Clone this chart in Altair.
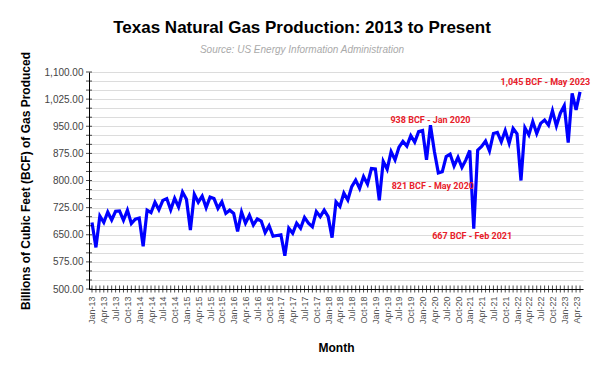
import altair as alt
import pandas as pd

# ---- data -------------------------------------------------------------
month_abbr = ["Jan", "Feb", "Mar", "Apr", "May", "Jun",
              "Jul", "Aug", "Sep", "Oct", "Nov", "Dec"]
years = list(range(2013, 2024))
month_labels = [f"{m}-{str(y)[2:]}" for y in years for m in month_abbr][:125]

production = [
    684, 615, 702, 684, 713, 691, 715, 716, 690, 718, 681, 693,   # 2013
    696, 618, 718, 711, 740, 719, 745, 750, 719, 751, 727, 768,   # 2014
    748, 663, 762, 740, 757, 725, 754, 750, 723, 741, 709, 718,   # 2015
    709, 659, 713, 682, 704, 677, 694, 688, 656, 675, 646, 648,   # 2016
    650, 592, 668, 654, 682, 668, 698, 682, 672, 714, 700, 718,   # 2017
    700, 642, 741, 728, 765, 746, 783, 801, 778, 811, 790, 833,   # 2018
    832, 745, 853, 831, 880, 857, 892, 908, 895, 924, 906, 935,   # 2019
    938, 857, 953, 880, 821, 824, 866, 873, 840, 864, 836, 857,   # 2020
    883, 667, 884, 894, 909, 882, 930, 933, 907, 938, 903, 944,   # 2021
    929, 800, 946, 926, 963, 930, 958, 967, 953, 993, 951, 986,   # 2022
    1007, 905, 1041, 995, 1045,                                   # 2023
]

y_ticks = list(range(500, 1101, 25))

annot_text = ["938 BCF - Jan 2020", "821 BCF - May 2020",
              "667 BCF - Feb 2021", "1,045 BCF - May 2023"]
annot_x = [86.0, 86.6, 96.6, 115.2]
annot_y = [967, 785, 647, 1072]

# ---- tables -----------------------------------------------------------
df = pd.DataFrame({"i": list(range(len(production))),
                   "label": month_labels, "bcf": production})
ticks_df = pd.DataFrame({"i": [-0.76] * len(y_ticks), "bcf": y_ticks})
annot_df = pd.DataFrame({"t": annot_text, "i": annot_x, "bcf": annot_y})

label_every3 = [month_labels[k] for k in range(0, len(month_labels), 3)]
js_arr = "[" + ",".join(f"'{s}'" for s in label_every3) + "]"

FONT = "Liberation Sans"
xscale = alt.Scale(domain=[-0.76, 124.76], nice=False, zero=False)
yscale = alt.Scale(domain=[500, 1100], nice=False, zero=False)

x_axis = alt.Axis(
    values=list(range(0, 125, 3)),
    labelExpr=f"{js_arr}[round(datum.value/3)]",
    labelAngle=-90, labelAlign="right", labelBaseline="middle",
    labelPadding=7, labelFontSize=9, labelColor="#555", labelFont=FONT,
    ticks=False, grid=False, domainColor="#000",
    title="Month", titleFont=FONT, titleFontSize=12, titleFontWeight="bold",
    titlePadding=19, titleColor="#000",
)
y_axis = alt.Axis(
    values=y_ticks,
    labelExpr="(datum.value-500)%75==0 ? format(datum.value, ',.2f') : ''",
    labelFontSize=10, labelColor="#444", labelFont=FONT, labelPadding=6,
    ticks=False, grid=True, gridColor="#dcdcdc", gridWidth=1,
    domainColor="#000",
    title="Billions of Cubic Feet (BCF) of Gas Produced",
    titleFont=FONT, titleFontSize=12, titleFontWeight="bold",
    titleColor="#000", titlePadding=12,
)

X = alt.X("i:Q", scale=xscale, axis=x_axis)
Y = alt.Y("bcf:Q", scale=yscale, axis=y_axis)

line = alt.Chart(df).mark_line(color="#0000ff", strokeWidth=3.2).encode(
    x=X, y=Y,
)

xticks = alt.Chart(df).mark_tick(color="#000", thickness=1, size=7,
                                 orient="vertical").encode(
    x=X, y=alt.value(217),
)
yticks = alt.Chart(ticks_df).mark_tick(color="#000", thickness=1, size=6,
                                       orient="horizontal").encode(
    y=Y, x=alt.value(0),
)

annots = alt.Chart(annot_df).mark_text(
    color="#e8202a", fontWeight="bold", fontSize=9, font="Roboto",
).encode(
    x=X, y=Y, text="t:N",
)

chart = alt.layer(line, xticks, yticks, annots).properties(
    width=494, height=217,
    autosize=alt.AutoSizeParams(type="none"),
    padding={"left": 81, "top": 64, "right": 9, "bottom": 76},
    title=alt.TitleParams(
        text="Texas Natural Gas Production: 2013 to Present",
        subtitle="Source: US Energy Information Administration",
        font=FONT, fontSize=17, fontWeight="bold", color="#000",
        subtitleFont=FONT, subtitleFontSize=10, subtitleFontStyle="italic",
        subtitleColor="#aaaaaa", subtitlePadding=8,
        anchor="middle", dx=-34, offset=-5,
    ),
).configure_view(stroke=None)

chart.save("out.html", embed_options={"renderer": "svg", "actions": False})
